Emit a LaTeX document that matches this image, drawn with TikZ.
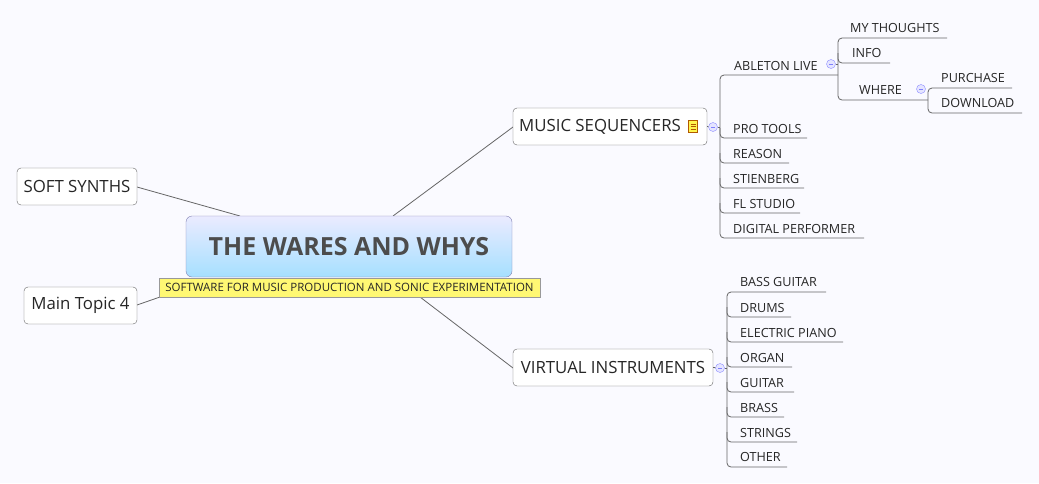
\documentclass[tikz,border=0pt]{standalone}
\usepackage{fontspec}
\setmainfont{Open Sans}
\begin{document}
\begin{tikzpicture}[x=1pt,y=-1pt,
  topic/.style={draw=black!60,fill=white,rounded corners=4pt,font=\fontsize{16.8}{19}\selectfont,text=black!85,inner sep=0pt},
  lf/.style={anchor=base west,font=\fontsize{12.6}{14}\selectfont,text=black!85,inner sep=0pt},
  ln/.style={draw=black!60,line width=0.8pt},
  col/.style={circle,draw=blue!45,fill=blue!10,minimum size=9pt,inner sep=0pt,path picture={\draw[blue!50] ([xshift=-2pt]path picture bounding box.center)--([xshift=2pt]path picture bounding box.center);}}]
\useasboundingbox (0,0) rectangle (1039,483);
\fill[black!4!blue!2!white] (0,0) rectangle (1039,483);
% connectors
\draw[ln] (240,216) coordinate(c1) -- (137,187) coordinate(s1);
\draw[ln] (393,216) coordinate(c2) -- (513,127) coordinate(m1);
\draw[ln] (420,297) coordinate(c3) -- (513,368) coordinate(v1);
\draw[ln] (137,305) coordinate(t1) -- (160,297) coordinate(y1);
% central
\node[draw=blue!40!black!50,rounded corners=6pt,top color=blue!8,bottom color=blue!35!cyan!35,minimum width=326pt,minimum height=61pt,inner sep=0pt,font=\fontsize{25}{27}\selectfont\bfseries,text=black!70] (cen) at (349,246.5) {THE WARES AND WHYS};
\node[draw=black!40,fill=yellow!55,minimum width=381pt,minimum height=19pt,inner sep=0pt,font=\fontsize{11.5}{13}\selectfont,text=black!85] (lab) at (349.5,287.5) {SOFTWARE FOR MUSIC PRODUCTION AND SONIC EXPERIMENTATION};
\node[topic,minimum width=120pt,minimum height=37pt] (ss) at (77,186.5) {SOFT SYNTHS};
\node[topic,minimum width=113pt,minimum height=37pt] (mt) at (80.5,305.5) {Main Topic 4};
\node[topic,minimum width=194pt,minimum height=37pt] (ms) at (610,126.5) {};
\node[anchor=west,inner sep=0pt,font=\fontsize{16.8}{19}\selectfont,text=black!85] (mst) at (519,126.5) {MUSIC SEQUENCERS};
\node[inner sep=0pt] (note) at (693,126) {\tikz[x=1pt,y=1pt]{\draw[draw=orange!70!black,fill=yellow!70] (0,0) rectangle (9,12);\foreach \yy in {3,5.5,8}\draw[orange!70!black,line width=0.5pt] (2,\yy)--(7,\yy);}};
\node[topic,minimum width=200pt,minimum height=37pt] (vi) at (613,367.5) {VIRTUAL INSTRUMENTS};
% music sequencers subtree
\node[col] (cm) at (713,127) {};
\draw[ln] (ms.east) -- (cm);
\draw[ln,rounded corners=4pt] (838,75) -- (720,75) -- (720,238) -- (864,238);
\draw[ln] (cm) -- (720,127);
\foreach \t/\y/\e in {PRO TOOLS/138/807, REASON/163/789, STIENBERG/188/804, FL STUDIO/213/800}{
  \draw[ln,rounded corners=4pt] (720,\y-10) |- (\e,\y);
  \node[lf] at (733,\y-5) {\t};}
\node[lf] at (733,233) {DIGITAL PERFORMER};
\node[lf] at (734,70) {ABLETON LIVE};
\node[col] (ca) at (831,64) {};
\draw[ln,rounded corners=4pt] (947,38) -- (838,38) -- (838,100) -- (928,100);
\draw[ln] (ca) -- (838,64);
\draw[ln,rounded corners=4pt] (838,53) |- (890,63);
\node[lf] at (850,32) {MY THOUGHTS};
\node[lf] at (852,57) {INFO};
\node[lf] at (859,94) {WHERE};
\node[col] (cw) at (921,89) {};
\draw[ln,rounded corners=4pt] (1012,88) -- (928,88) -- (928,113) -- (1022,113);
\node[lf] at (941,82) {PURCHASE};
\node[lf] at (941,107) {DOWNLOAD};
% virtual instruments subtree
\node[col] (cv) at (720,368) {};
\draw[ln] (vi.east) -- (cv);
\draw[ln,rounded corners=4pt] (826,292) -- (727,292) -- (727,467) -- (787,467);
\draw[ln] (cv) -- (727,368);
\node[lf] at (740,286) {BASS GUITAR};
\foreach \t/\y/\e in {DRUMS/317/791, ELECTRIC PIANO/342/843, ORGAN/367/792, GUITAR/392/794, BRASS/417/784, STRINGS/442/797}{
  \draw[ln,rounded corners=4pt] (727,\y-10) |- (\e,\y);
  \node[lf] at (740,\y-5) {\t};}
\node[lf] at (740,461) {OTHER};
\end{tikzpicture}
\end{document}
